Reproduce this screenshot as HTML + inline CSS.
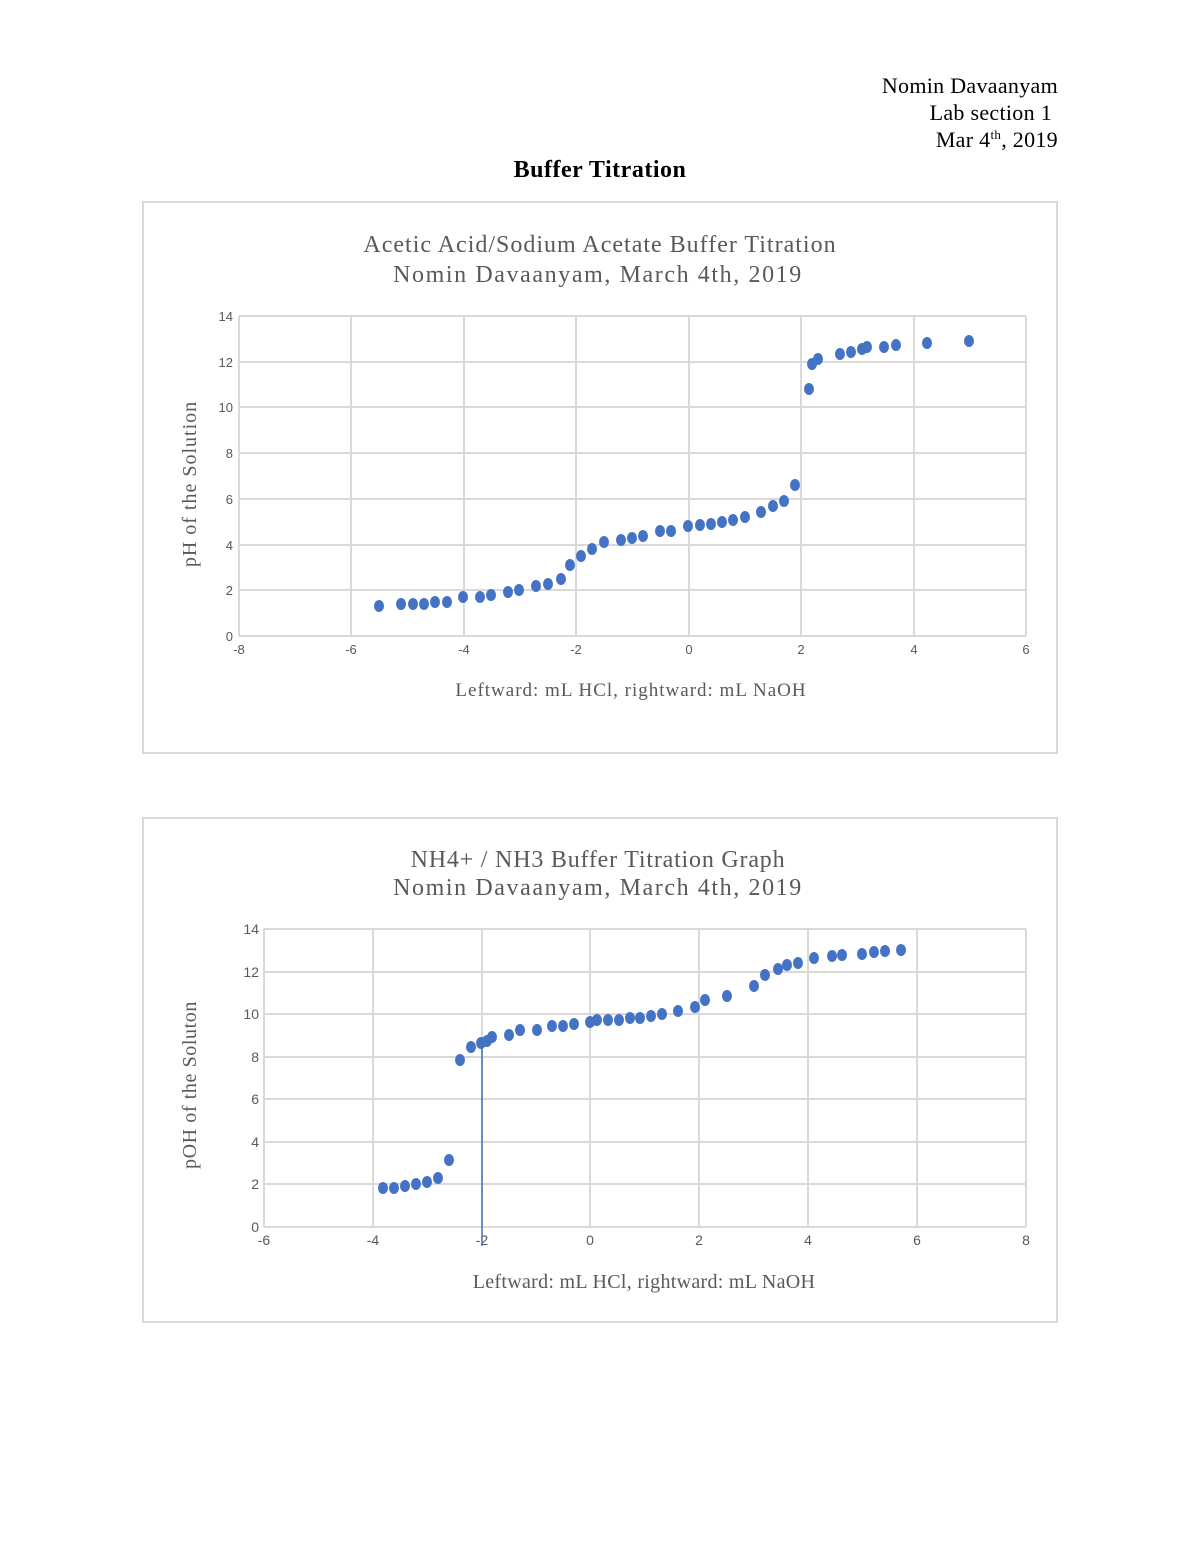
<!DOCTYPE html>
<html><head><meta charset="utf-8"><style>body{margin:0;background:#fff}svg{display:block}</style></head>
<body>
<svg width="1200" height="1553" xmlns="http://www.w3.org/2000/svg" font-family="Liberation Serif, serif">
<g font-size="22" fill="#000" text-anchor="end" letter-spacing="0.3">
<text x="1058" y="93">Nomin Davaanyam</text>
<text x="1052" y="120">Lab section 1</text>
<text x="1058" y="147">Mar 4<tspan font-size="13" dy="-8">th</tspan><tspan dy="8">, 2019</tspan></text>
</g>
<text x="600" y="177" font-size="24" font-weight="bold" text-anchor="middle" letter-spacing="0.5">Buffer Titration</text>

<rect x="143" y="202" width="914" height="551" fill="none" stroke="#d9d9d9" stroke-width="2"/>
<rect x="143" y="818" width="914" height="504" fill="none" stroke="#d9d9d9" stroke-width="2"/>

<g fill="#595959" text-anchor="middle" font-size="24" letter-spacing="1">
<text x="600" y="252">Acetic Acid/Sodium Acetate Buffer Titration</text>
<text x="598" y="282" letter-spacing="1.6">Nomin Davaanyam, March 4th,  2019</text>
<text x="598" y="867" letter-spacing="0.8">NH4+ / NH3 Buffer Titration Graph</text>
<text x="598" y="895" letter-spacing="1.6">Nomin Davaanyam, March 4th,  2019</text>
<text x="631" y="696" font-size="19" letter-spacing="1">Leftward: mL HCl, rightward: mL NaOH</text>
<text x="644" y="1288" font-size="20" letter-spacing="0.3">Leftward: mL HCl, rightward: mL NaOH</text>
<text transform="translate(196,484) rotate(-90)" font-size="20">pH of the Solution</text>
<text transform="translate(196,1085) rotate(-90)" font-size="20" letter-spacing="0.6">pOH of the Soluton</text>
</g>

<!-- chart 1 grid -->
<g stroke="#d9d9d9" stroke-width="2">
<line x1="239" y1="316" x2="1026" y2="316"/><line x1="239" y1="362" x2="1026" y2="362"/><line x1="239" y1="407" x2="1026" y2="407"/><line x1="239" y1="453" x2="1026" y2="453"/><line x1="239" y1="499" x2="1026" y2="499"/><line x1="239" y1="545" x2="1026" y2="545"/><line x1="239" y1="590" x2="1026" y2="590"/><line x1="239" y1="636" x2="1026" y2="636"/>
<line x1="239" y1="316" x2="239" y2="636"/><line x1="351" y1="316" x2="351" y2="636"/><line x1="464" y1="316" x2="464" y2="636"/><line x1="576" y1="316" x2="576" y2="636"/><line x1="689" y1="316" x2="689" y2="636"/><line x1="801" y1="316" x2="801" y2="636"/><line x1="914" y1="316" x2="914" y2="636"/><line x1="1026" y1="316" x2="1026" y2="636"/>
</g>
<g fill="#595959" font-family="Liberation Sans, sans-serif" font-size="13" text-anchor="end">
<text x="233" y="321">14</text><text x="233" y="367">12</text><text x="233" y="412">10</text><text x="233" y="458">8</text><text x="233" y="504">6</text><text x="233" y="550">4</text><text x="233" y="595">2</text><text x="233" y="641">0</text>
</g>
<g fill="#595959" font-family="Liberation Sans, sans-serif" font-size="13" text-anchor="middle">
<text x="239" y="654">-8</text><text x="351" y="654">-6</text><text x="464" y="654">-4</text><text x="576" y="654">-2</text><text x="689" y="654">0</text><text x="801" y="654">2</text><text x="914" y="654">4</text><text x="1026" y="654">6</text>
</g>
<g fill="#4472c4">
<ellipse cx="379" cy="606" rx="5" ry="6"/><ellipse cx="401" cy="604" rx="5" ry="6"/><ellipse cx="413" cy="604" rx="5" ry="6"/><ellipse cx="424" cy="604" rx="5" ry="6"/><ellipse cx="435" cy="602" rx="5" ry="6"/><ellipse cx="447" cy="602" rx="5" ry="6"/><ellipse cx="463" cy="597" rx="5" ry="6"/><ellipse cx="480" cy="597" rx="5" ry="6"/><ellipse cx="491" cy="595" rx="5" ry="6"/><ellipse cx="508" cy="592" rx="5" ry="6"/><ellipse cx="519" cy="590" rx="5" ry="6"/><ellipse cx="536" cy="586" rx="5" ry="6"/><ellipse cx="548" cy="584" rx="5" ry="6"/><ellipse cx="561" cy="579" rx="5" ry="6"/><ellipse cx="570" cy="565" rx="5" ry="6"/><ellipse cx="581" cy="556" rx="5" ry="6"/><ellipse cx="592" cy="549" rx="5" ry="6"/><ellipse cx="604" cy="542" rx="5" ry="6"/><ellipse cx="621" cy="540" rx="5" ry="6"/><ellipse cx="632" cy="538" rx="5" ry="6"/><ellipse cx="643" cy="536" rx="5" ry="6"/><ellipse cx="660" cy="531" rx="5" ry="6"/><ellipse cx="671" cy="531" rx="5" ry="6"/><ellipse cx="688" cy="526" rx="5" ry="6"/><ellipse cx="700" cy="525" rx="5" ry="6"/><ellipse cx="711" cy="524" rx="5" ry="6"/><ellipse cx="722" cy="522" rx="5" ry="6"/><ellipse cx="733" cy="520" rx="5" ry="6"/><ellipse cx="745" cy="517" rx="5" ry="6"/><ellipse cx="761" cy="512" rx="5" ry="6"/><ellipse cx="773" cy="506" rx="5" ry="6"/><ellipse cx="784" cy="501" rx="5" ry="6"/><ellipse cx="795" cy="485" rx="5" ry="6"/><ellipse cx="809" cy="389" rx="5" ry="6"/><ellipse cx="812" cy="364" rx="5" ry="6"/><ellipse cx="818" cy="359" rx="5" ry="6"/><ellipse cx="840" cy="354" rx="5" ry="6"/><ellipse cx="851" cy="352" rx="5" ry="6"/><ellipse cx="862" cy="349" rx="5" ry="6"/><ellipse cx="867" cy="347" rx="5" ry="6"/><ellipse cx="884" cy="347" rx="5" ry="6"/><ellipse cx="896" cy="345" rx="5" ry="6"/><ellipse cx="927" cy="343" rx="5" ry="6"/><ellipse cx="969" cy="341" rx="5" ry="6"/>
</g>

<!-- chart 2 grid -->
<g stroke="#d9d9d9" stroke-width="2">
<line x1="264" y1="929" x2="1026" y2="929"/><line x1="264" y1="972" x2="1026" y2="972"/><line x1="264" y1="1014" x2="1026" y2="1014"/><line x1="264" y1="1057" x2="1026" y2="1057"/><line x1="264" y1="1099" x2="1026" y2="1099"/><line x1="264" y1="1142" x2="1026" y2="1142"/><line x1="264" y1="1184" x2="1026" y2="1184"/><line x1="264" y1="1227" x2="1026" y2="1227"/>
<line x1="264" y1="929" x2="264" y2="1227"/><line x1="373" y1="929" x2="373" y2="1227"/><line x1="482" y1="929" x2="482" y2="1227"/><line x1="590" y1="929" x2="590" y2="1227"/><line x1="699" y1="929" x2="699" y2="1227"/><line x1="808" y1="929" x2="808" y2="1227"/><line x1="917" y1="929" x2="917" y2="1227"/><line x1="1026" y1="929" x2="1026" y2="1227"/>
</g>
<g fill="#595959" font-family="Liberation Sans, sans-serif" font-size="14" text-anchor="end">
<text x="259" y="934">14</text><text x="259" y="977">12</text><text x="259" y="1019">10</text><text x="259" y="1062">8</text><text x="259" y="1104">6</text><text x="259" y="1147">4</text><text x="259" y="1189">2</text><text x="259" y="1232">0</text>
</g>
<g fill="#595959" font-family="Liberation Sans, sans-serif" font-size="14" text-anchor="middle">
<text x="264" y="1245">-6</text><text x="373" y="1245">-4</text><text x="482" y="1245">-2</text><text x="590" y="1245">0</text><text x="699" y="1245">2</text><text x="808" y="1245">4</text><text x="917" y="1245">6</text><text x="1026" y="1245">8</text>
</g>
<line x1="482" y1="1041" x2="482" y2="1246" stroke="#4472c4" stroke-width="1.5"/>
<g fill="#4472c4">
<ellipse cx="383" cy="1188" rx="5" ry="6"/><ellipse cx="394" cy="1188" rx="5" ry="6"/><ellipse cx="405" cy="1186" rx="5" ry="6"/><ellipse cx="416" cy="1184" rx="5" ry="6"/><ellipse cx="427" cy="1182" rx="5" ry="6"/><ellipse cx="438" cy="1178" rx="5" ry="6"/><ellipse cx="449" cy="1160" rx="5" ry="6"/><ellipse cx="460" cy="1060" rx="5" ry="6"/><ellipse cx="471" cy="1047" rx="5" ry="6"/><ellipse cx="481" cy="1043" rx="5" ry="6"/><ellipse cx="487" cy="1041" rx="5" ry="6"/><ellipse cx="492" cy="1037" rx="5" ry="6"/><ellipse cx="509" cy="1035" rx="5" ry="6"/><ellipse cx="520" cy="1030" rx="5" ry="6"/><ellipse cx="537" cy="1030" rx="5" ry="6"/><ellipse cx="552" cy="1026" rx="5" ry="6"/><ellipse cx="563" cy="1026" rx="5" ry="6"/><ellipse cx="574" cy="1024" rx="5" ry="6"/><ellipse cx="590" cy="1022" rx="5" ry="6"/><ellipse cx="597" cy="1020" rx="5" ry="6"/><ellipse cx="608" cy="1020" rx="5" ry="6"/><ellipse cx="619" cy="1020" rx="5" ry="6"/><ellipse cx="630" cy="1018" rx="5" ry="6"/><ellipse cx="640" cy="1018" rx="5" ry="6"/><ellipse cx="651" cy="1016" rx="5" ry="6"/><ellipse cx="662" cy="1014" rx="5" ry="6"/><ellipse cx="678" cy="1011" rx="5" ry="6"/><ellipse cx="695" cy="1007" rx="5" ry="6"/><ellipse cx="705" cy="1000" rx="5" ry="6"/><ellipse cx="727" cy="996" rx="5" ry="6"/><ellipse cx="754" cy="986" rx="5" ry="6"/><ellipse cx="765" cy="975" rx="5" ry="6"/><ellipse cx="778" cy="969" rx="5" ry="6"/><ellipse cx="787" cy="965" rx="5" ry="6"/><ellipse cx="798" cy="963" rx="5" ry="6"/><ellipse cx="814" cy="958" rx="5" ry="6"/><ellipse cx="832" cy="956" rx="5" ry="6"/><ellipse cx="842" cy="955" rx="5" ry="6"/><ellipse cx="862" cy="954" rx="5" ry="6"/><ellipse cx="874" cy="952" rx="5" ry="6"/><ellipse cx="885" cy="951" rx="5" ry="6"/><ellipse cx="901" cy="950" rx="5" ry="6"/>
</g>
</svg>
</body></html>
